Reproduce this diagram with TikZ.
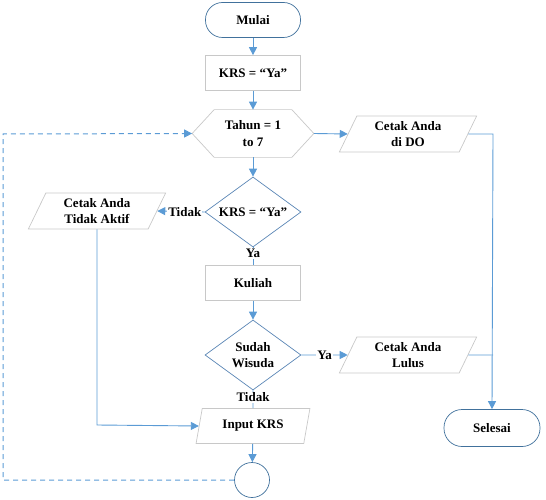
\documentclass[tikz,border=0pt]{standalone}
\usepackage{fontspec}
\setmainfont{Liberation Serif}
\usetikzlibrary{shapes.geometric,arrows.meta}
\definecolor{arr}{HTML}{5B9BD5}
\definecolor{term}{HTML}{41719C}
\definecolor{gbox}{HTML}{C8C8C8}
\definecolor{dia}{HTML}{5A86B5}
\tikzset{
  base/.style={font=\bfseries\fontsize{13}{16.5}\selectfont, align=center, inner sep=0pt, line width=0.7pt},
  term/.style={base, draw=term, rounded corners=17pt, minimum width=95pt, minimum height=35pt},
  proc/.style={base, draw=gbox, minimum width=95pt, minimum height=35pt},
  io/.style={base, draw=gbox, trapezium, trapezium left angle=66, trapezium right angle=114, trapezium stretches=true, minimum height=36pt},
  hexa/.style={base, minimum width=121pt, minimum height=47pt},
  dec/.style={base, draw=dia, diamond, minimum width=96pt, minimum height=70pt, aspect=1.37},
  conn/.style={draw=term, circle, minimum size=35pt, inner sep=0pt, line width=0.7pt},
  flow/.style={draw=arr, line width=0.9pt, -{Triangle[length=8pt,width=8pt]}},
  line/.style={draw=arr, line width=0.9pt},
  dashline/.style={draw=arr, line width=1pt, dash pattern=on 5pt off 4pt},
  lbl/.style={font=\bfseries\fontsize{13}{14}\selectfont, fill=white, inner sep=1pt}
}
\begin{document}
\begin{tikzpicture}[x=1pt,y=-1pt]
\useasboundingbox (0,0) rectangle (546,500);
\node[term] (mulai) at (253,20) {Mulai};
\node[proc] (krs) at (253,73) {KRS = “Ya”};
\node[hexa] (tahun) at (253,133.5) {Tahun = 1\\to 7};
\draw[draw=gbox, line width=0.7pt] ([xshift=22pt]tahun.north west) -- ([xshift=-22pt]tahun.north east) -- (tahun.east) -- ([xshift=-22pt]tahun.south east) -- ([xshift=22pt]tahun.south west) -- (tahun.west) -- cycle;
\node[io, minimum width=138pt] (do) at (408,134) {Cetak Anda\\di DO};
\node[dec] (d1) at (253,212) {KRS = “Ya”};
\node[io, minimum width=138pt] (aktif) at (97,211) {Cetak Anda\\Tidak Aktif};
\node[proc] (kuliah) at (253,283) {Kuliah};
\node[dec] (d2) at (253,355) {Sudah\\Wisuda};
\node[io, minimum width=138pt] (lulus) at (408,355) {Cetak Anda\\Lulus};
\node[term, minimum width=96pt, minimum height=37pt, rounded corners=18pt] (selesai) at (492,428) {Selesai};
\node[io, minimum width=114pt, minimum height=35pt, trapezium left angle=72, trapezium right angle=108] (input) at (253,426) {Input KRS};
\node[conn] (c) at (252,480) {};
\coordinate (jr) at (493,134);
\coordinate (jl) at (493,355);
\coordinate (al) at (97,425);
\coordinate (dl) at (3,480);
\coordinate (tl) at (3,134);

\draw[flow] (mulai) -- (krs);
\draw[flow] (krs) -- (tahun);
\draw[flow] (tahun.east) -- (do.west);
\draw[flow] (tahun) -- (d1);
\draw[flow] (d1.west) -- node[lbl, pos=0.42] {Tidak} (aktif.east);
\draw[line] (d1.south) -- node[lbl, pos=0.35] {Ya} (kuliah.north);
\draw[flow] (kuliah) -- (d2);
\draw[flow] (d2.east) -- node[lbl, pos=0.5] {Ya} (lulus.west);
\draw[line] (d2.south) -- node[lbl, pos=0.4] {Tidak} (input.north);
\draw[flow] (input) -- (c);
\draw[flow] (do.east) -- (jr) -- (selesai.north);
\draw[line] (lulus.east) -- (jl);
\draw[flow] (aktif.south) -- (al) -- (input.west);
\draw[dashline, -{Triangle[length=8pt,width=8pt]}] (c.west) -- (dl) -- (tl) -- (tahun.west);
\end{tikzpicture}
\end{document}
